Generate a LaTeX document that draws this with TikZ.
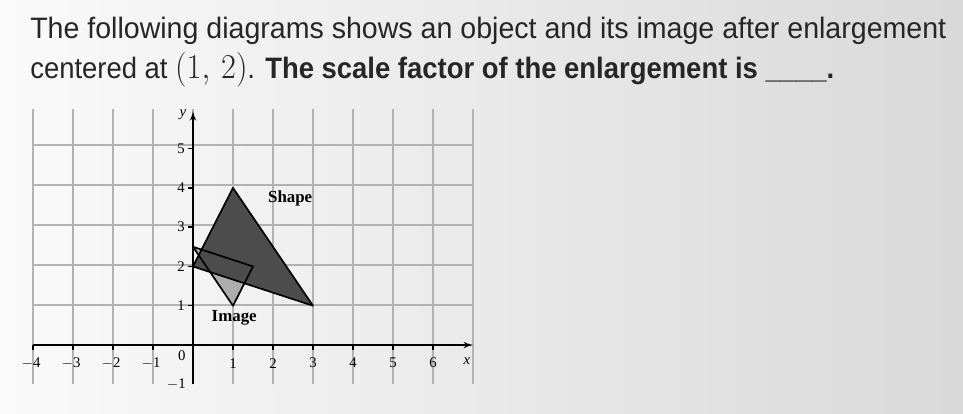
\RequirePackage{fix-cm}
\documentclass[tikz,border=0pt]{standalone}
\usepackage{fontspec}
\usepackage{graphicx}
\setmainfont{Liberation Sans}
\newfontfamily\figfont{Liberation Serif}
\usetikzlibrary{calc, arrows}
\tikzstyle{lbl}=[font=\figfont\fontsize{10.5}{12}\selectfont, inner sep=1pt]
\tikzstyle{tag}=[font=\figfont\bfseries\fontsize{12}{14}\selectfont, inner sep=1pt]
\tikzstyle{gridln}=[draw=gray!60, line width=1pt]
\tikzstyle{ax}=[line width=1.3pt, ->]
\tikzstyle{tri}=[draw, line width=1.2pt, line join=round]

\begin{document}
\begin{tikzpicture}[x=1cm, y=0.9825cm, >=latex']
      \useasboundingbox (-4.825,-1.73) rectangle (19.25,8.78);
      \shade[left color=gray!4, right color=gray!30] (-4.825,-1.73) rectangle (19.25,8.78);

      \node (l1) [anchor=base west, inner sep=0, text=black!85] at (-4.075,7.79)
        {\fontsize{21}{25}\selectfont\resizebox{22.9cm}{\height}{The following diagrams shows an object and its image after enlargement}};
      \node (l2) [anchor=base west, inner sep=0, text=black!85] at (-4.075,6.77)
        {\fontsize{21}{25}\selectfont\resizebox{20.1cm}{\height}{centered at \scalebox{1.18}{$(1,\,2)$}. \textbf{The scale factor of the enlargement is} \textbf{\_\_\_\_.}}};

      \draw[gridln] (-4,-1) grid (7,6);

      \coordinate (xl) at (-4,0);
      \coordinate (xr) at (7,0);
      \coordinate (yb) at (0,-1);
      \coordinate (yt) at (0,5.95);

      \coordinate (iA) at (1,1);
      \coordinate (iB) at (0,2.5);
      \coordinate (iC) at (1.5,2);
      \coordinate (sA) at (1,4);
      \coordinate (sB) at (3,1);
      \coordinate (sC) at (0,2);

      \fill[black!32] (iA) -- (iB) -- (iC) -- cycle;
      \filldraw[tri, fill=black!70] (sA) -- (sB) -- (sC) -- cycle;
      \draw[tri] (iA) -- (iB) -- (iC) -- cycle;

      \draw[ax] (xl) -- (xr);
      \draw[ax] (yb) -- (yt);
      \foreach \i in {-4,...,6} \draw[line width=1pt] (\i,0) -- (\i,-0.12);
      \foreach \j in {1,...,5} \draw[line width=1pt] (0,\j) -- (-0.12,\j);

      \node[lbl] (xm4) at (-4.05,-0.46) {$-$4};
      \node[lbl] (xm3) at (-3.05,-0.46) {$-$3};
      \node[lbl] (xm2) at (-2.05,-0.46) {$-$2};
      \node[lbl] (xm1) at (-1.05,-0.46) {$-$1};
      \node[lbl] (o) at (-0.28,-0.27) {0};
      \node[lbl] (x1) at (1,-0.46) {1};
      \node[lbl] (x2) at (2,-0.46) {2};
      \node[lbl] (x3) at (3,-0.46) {3};
      \node[lbl] (x4) at (4,-0.46) {4};
      \node[lbl] (x5) at (5,-0.46) {5};
      \node[lbl] (x6) at (6,-0.46) {6};
      \node[lbl, font=\figfont\itshape\fontsize{10.5}{12}\selectfont] (xx) at (6.85,-0.40) {x};

      \node[lbl] (y1) at (-0.3,1) {1};
      \node[lbl] (y2) at (-0.3,2) {2};
      \node[lbl] (y3) at (-0.3,3) {3};
      \node[lbl] (y4) at (-0.3,4) {4};
      \node[lbl] (y5) at (-0.3,5) {5};
      \node[lbl] (ym1) at (-0.42,-1) {$-$1};
      \node[lbl, font=\figfont\itshape\fontsize{10.5}{12}\selectfont] (yy) at (-0.25,5.85) {y};

      \node[tag] (shape) at (2.43,3.74) {Shape};
      \node[tag] (image) at (1.03,0.69) {Image};
  \end{tikzpicture}
\end{document}
